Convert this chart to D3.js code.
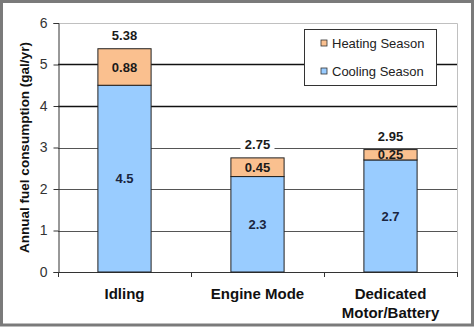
<!DOCTYPE html>
<html>
<head>
<meta charset="utf-8">
<script src="https://cdn.jsdelivr.net/npm/d3@7"></script>
<style>
  body { margin: 0; background: #fff; }
  text { font-family: "Liberation Sans", Arial, sans-serif; }
</style>
</head>
<body>
<svg id="chart" width="474" height="327"></svg>
<script>
// data
var categories = ["Idling", "Engine Mode", "Dedicated\nMotor/Battery"];
var cooling = [4.5, 2.3, 2.7];
var heating = [0.88, 0.45, 0.25];
var totals = [5.38, 2.75, 2.95];
var yTicks = [0, 1, 2, 3, 4, 5, 6];
var seriesNames = ["Heating Season", "Cooling Season"];

var colors = { heat: "#fac08f", cool: "#99ccff" };

var svg = d3.select("#chart");

var plotLeft = 58, plotRight = 457, plotTop = 23, plotBottom = 272;

var x = d3.scaleBand()
    .domain(categories)
    .range([plotLeft, plotRight])
    .paddingInner(0.6)
    .paddingOuter(0.3);

var y = d3.scaleLinear()
    .domain([0, 6])
    .range([plotBottom, plotTop]);

// outer frame
svg.append("rect")
    .attr("x", 1.5).attr("y", 1.5)
    .attr("width", 471).attr("height", 323.5)
    .attr("fill", "none")
    .attr("stroke", "#7a7a7a")
    .attr("stroke-width", 3);

// plot area border (top / right)
svg.append("path")
    .attr("d", "M" + plotLeft + "," + (plotTop + 0.5) + "H" + (plotRight + 0.5) + "V" + plotBottom)
    .attr("fill", "none")
    .attr("stroke", "#c0c0c0");

// gridlines
svg.selectAll(".grid")
    .data(yTicks.filter(function(d) { return d > 0 && d < 6; }))
    .enter().append("line")
    .attr("x1", plotLeft).attr("x2", plotRight)
    .attr("y1", function(d) { return Math.round(y(d)) + 0.5; })
    .attr("y2", function(d) { return Math.round(y(d)) + 0.5; })
    .attr("stroke", function(d) { return d >= 4 ? "#111" : "#555"; })
    .attr("stroke-width", function(d) { return d >= 4 ? 1.6 : 1; });

// y axis
var yAxis = d3.axisLeft(y)
    .tickValues(yTicks)
    .tickSize(5)
    .tickPadding(6)
    .tickFormat(d3.format("d"));

var gy = svg.append("g")
    .attr("transform", "translate(" + (plotLeft + 0.5) + ",0)")
    .call(yAxis);
gy.select(".domain").attr("stroke", "#333");
gy.selectAll(".tick line").attr("stroke", "#333");
gy.selectAll(".tick text")
    .attr("font-size", 14)
    .attr("fill", "#333")
    .style("font-family", "'Liberation Sans', Arial, sans-serif");

// x axis line + ticks at band edges
svg.append("line")
    .attr("x1", plotLeft).attr("x2", plotRight)
    .attr("y1", plotBottom + 0.5).attr("y2", plotBottom + 0.5)
    .attr("stroke", "#333");

var edges = [plotLeft].concat(categories.map(function(c) { return x(c) + x.bandwidth() + x.step() * 0.3; }));
svg.selectAll(".xtick")
    .data(edges)
    .enter().append("line")
    .attr("x1", function(d) { return Math.round(d) + 0.5; })
    .attr("x2", function(d) { return Math.round(d) + 0.5; })
    .attr("y1", plotBottom).attr("y2", plotBottom + 5)
    .attr("stroke", "#333");

// category labels
svg.selectAll(".xlab")
    .data(categories)
    .enter().append("text")
    .attr("text-anchor", "middle")
    .attr("font-size", 15)
    .attr("font-weight", "bold")
    .attr("fill", "#111")
    .each(function(d) {
        var t = d3.select(this);
        d.split("\n").forEach(function(line, i) {
            t.append("tspan")
                .attr("x", x(d) + x.bandwidth() / 2)
                .attr("y", 299 + i * 19)
                .text(line);
        });
    });

// bars
var bars = svg.selectAll(".bar")
    .data(categories)
    .enter().append("g");

bars.append("rect")
    .attr("x", function(d) { return x(d); })
    .attr("width", x.bandwidth())
    .attr("y", function(d, i) { return y(cooling[i]); })
    .attr("height", function(d, i) { return y(0) - y(cooling[i]); })
    .attr("fill", colors.cool)
    .attr("stroke", "#222")
    .attr("stroke-width", 1);

bars.append("rect")
    .attr("x", function(d) { return x(d); })
    .attr("width", x.bandwidth())
    .attr("y", function(d, i) { return y(cooling[i] + heating[i]); })
    .attr("height", function(d, i) { return y(cooling[i]) - y(cooling[i] + heating[i]); })
    .attr("fill", colors.heat)
    .attr("stroke", "#222")
    .attr("stroke-width", 1);

// segment labels
bars.append("text")
    .attr("x", function(d) { return x(d) + x.bandwidth() / 2; })
    .attr("y", function(d, i) { return y(cooling[i] / 2); })
    .attr("dy", "0.35em")
    .attr("text-anchor", "middle")
    .attr("font-size", 13)
    .attr("font-weight", "bold")
    .attr("fill", "#1a2540")
    .text(function(d, i) { return cooling[i]; });

bars.append("text")
    .attr("x", function(d) { return x(d) + x.bandwidth() / 2; })
    .attr("y", function(d, i) { return y(cooling[i] + heating[i] / 2); })
    .attr("dy", "0.35em")
    .attr("text-anchor", "middle")
    .attr("font-size", 13)
    .attr("font-weight", "bold")
    .attr("fill", "#1a1a1a")
    .text(function(d, i) { return heating[i].toFixed(2); });

// total labels with white backing
bars.append("rect")
    .attr("x", function(d) { return x(d) + x.bandwidth() / 2 - 17; })
    .attr("y", function(d, i) { return y(totals[i]) - 22; })
    .attr("width", 34).attr("height", 16)
    .attr("fill", "#fff");

bars.append("text")
    .attr("x", function(d) { return x(d) + x.bandwidth() / 2; })
    .attr("y", function(d, i) { return y(totals[i]) - 13.5; })
    .attr("dy", "0.35em")
    .attr("text-anchor", "middle")
    .attr("font-size", 13)
    .attr("font-weight", "bold")
    .attr("fill", "#1a1a1a")
    .text(function(d, i) { return totals[i].toFixed(2); });

// y axis title
svg.append("text")
    .attr("transform", "translate(24," + ((plotTop + plotBottom) / 2 + 0) + ") rotate(-90)")
    .attr("dy", "0.35em")
    .attr("text-anchor", "middle")
    .attr("font-size", 13.5)
    .attr("font-weight", "bold")
    .attr("fill", "#111")
    .text("Annual fuel consumption (gal/yr)");

// legend
var legend = svg.append("g");
legend.append("rect")
    .attr("x", 304.5).attr("y", 29.5)
    .attr("width", 132).attr("height", 56)
    .attr("fill", "#fff")
    .attr("stroke", "#333");

var legendColors = [colors.heat, colors.cool];
var items = legend.selectAll(".item")
    .data(seriesNames)
    .enter().append("g")
    .attr("transform", function(d, i) { return "translate(321," + (43 + i * 28) + ")"; });

items.append("rect")
    .attr("x", 0).attr("y", -3)
    .attr("width", 6).attr("height", 6)
    .attr("fill", function(d, i) { return legendColors[i]; })
    .attr("stroke", "#333")
    .attr("stroke-width", 0.8);

items.append("text")
    .attr("x", 11)
    .attr("dy", "0.35em")
    .attr("font-size", 13)
    .attr("fill", "#222")
    .text(function(d) { return d; });
</script>
</body>
</html>
